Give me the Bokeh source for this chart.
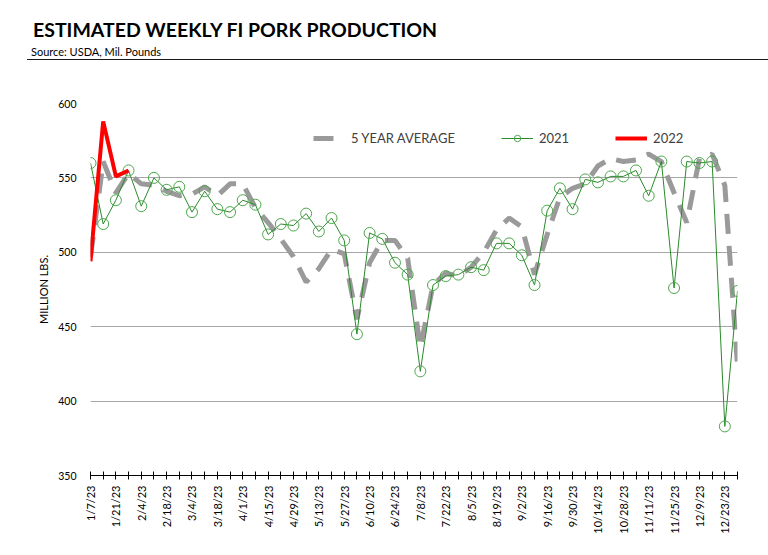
from bokeh.plotting import figure
from bokeh.models import (Range1d, FixedTicker, Legend, LegendItem, Div,
                          ColumnDataSource)
from bokeh.layouts import column
from bokeh.embed import file_html
from bokeh.resources import INLINE
import math

weeks = ["1/7/23", "1/14/23", "1/21/23", "1/28/23", "2/4/23", "2/11/23", "2/18/23",
         "2/25/23", "3/4/23", "3/11/23", "3/18/23", "3/25/23", "4/1/23", "4/8/23",
         "4/15/23", "4/22/23", "4/29/23", "5/6/23", "5/13/23", "5/20/23", "5/27/23",
         "6/3/23", "6/10/23", "6/17/23", "6/24/23", "7/1/23", "7/8/23", "7/15/23",
         "7/22/23", "7/29/23", "8/5/23", "8/12/23", "8/19/23", "8/26/23", "9/2/23",
         "9/9/23", "9/16/23", "9/23/23", "9/30/23", "10/7/23", "10/14/23", "10/21/23",
         "10/28/23", "11/4/23", "11/11/23", "11/18/23", "11/25/23", "12/2/23",
         "12/9/23", "12/16/23", "12/23/23", "12/30/23"]

avg5 = [497, 561, 540, 553, 546, 545, 541, 538, 539, 544, 538, 546, 546, 530,
        520, 509, 497, 480, 489, 502, 499, 455, 493, 508, 508, 496, 436, 478,
        486, 484, 490, 500, 515, 523, 517, 485, 512, 537, 543, 546, 558, 563,
        561, 562, 566, 561, 540, 520, 563, 566, 545, 424]

y2021 = [560, 519, 535, 555, 531, 550, 542, 544, 527, 541, 529, 527, 535, 532,
         512, 519, 518, 526, 514, 523, 508, 445, 513, 509, 493, 485, 420, 478,
         484, 485, 490, 488, 506, 506, 498, 478, 528, 543, 529, 549, 547, 551,
         551, 555, 538, 561, 476, 561, 560, 561, 383, 474]

y2022 = [494, 588, 551, 555]

y_ticks = [350, 400, 450, 500, 550, 600]

TITLE = "ESTIMATED WEEKLY FI PORK PRODUCTION"
SUBTITLE = "Source: USDA, Mil. Pounds"

FONT = "Lato"
W = 768
HEAD_H = 62

# ---------------- header (title, subtitle, rule) ----------------
header_html = (
    '<div style="position:relative;width:768px;height:62px;'
    'font-family:Lato,sans-serif;color:#000;">'
    '<div style="position:absolute;left:33px;top:18px;font-size:19.5px;'
    'font-weight:bold;line-height:24px;white-space:nowrap;">' + TITLE + '</div>'
    '<div style="position:absolute;left:31px;top:45px;font-size:11px;'
    'line-height:14px;white-space:nowrap;">' + SUBTITLE + '</div>'
    '<div style="position:absolute;left:27px;top:59px;width:741px;height:0;'
    'border-top:1.5px solid #1a1a1a;"></div>'
    '</div>'
)
head = Div(text=header_html, width=W, height=HEAD_H, margin=0)

# ---------------- main chart ----------------
idx = list(range(len(weeks)))

p = figure(width=W, height=555 - HEAD_H, output_backend="svg",
           toolbar_location=None,
           x_range=Range1d(0, len(weeks) - 1), y_range=Range1d(350, 600),
           min_border_left=90, min_border_right=31, min_border_top=103 - HEAD_H,
           min_border_bottom=80, margin=0)
p.outline_line_color = None

p.xgrid.grid_line_color = None
p.ygrid.grid_line_color = "#a6a6a6"
p.ygrid.grid_line_width = 1
p.ygrid.ticker = FixedTicker(ticks=y_ticks)

xa = p.xaxis[0]
xa.ticker = FixedTicker(ticks=idx)
xa.major_label_overrides = {i: (weeks[i] if i % 2 == 0 else "") for i in idx}
xa.major_label_orientation = math.pi / 2
xa.axis_line_color = "#000000"
xa.major_tick_line_color = "#000000"
xa.major_tick_in = 4
xa.major_tick_out = 4
xa.minor_tick_line_color = None
xa.major_label_text_font = FONT
xa.major_label_text_font_size = "11px"
xa.major_label_text_color = "#000000"
xa.major_label_standoff = 6

ya = p.yaxis[0]
ya.ticker = FixedTicker(ticks=y_ticks)
ya.axis_line_color = None
ya.major_tick_line_color = None
ya.minor_tick_line_color = None
ya.major_label_text_font = FONT
ya.major_label_text_font_size = "10.5px"
ya.major_label_text_color = "#000000"
ya.major_label_standoff = 8
ya.axis_label = "MILLION LBS."
ya.axis_label_text_font = FONT
ya.axis_label_text_font_size = "11px"
ya.axis_label_text_font_style = "normal"
ya.axis_label_text_color = "#000000"
ya.axis_label_standoff = 5

src = ColumnDataSource(dict(x=idx, avg=avg5, y21=y2021))
src22 = ColumnDataSource(dict(x=idx[:len(y2022)], y=y2022))

r_avg = p.line("x", "avg", source=src, line_color="#9a9a9a", line_width=5,
               line_dash="20 12")
r21l = p.line("x", "y21", source=src, line_color="#2a8a2a", line_width=1)
r21m = p.scatter("x", "y21", source=src, marker="circle", size=11,
                 fill_color=None, line_color="#4da64d", line_width=1)
r22 = p.line("x", "y", source=src22, line_color="#ff0000", line_width=4)

legend = Legend(items=[
    LegendItem(label="5 YEAR AVERAGE", renderers=[r_avg]),
    LegendItem(label="2021", renderers=[r21l, r21m]),
    LegendItem(label="2022", renderers=[r22]),
], orientation="horizontal", location=(223, 329), padding=0, margin=0,
    spacing=46, glyph_width=32, glyph_height=16, label_standoff=6,
    label_text_font=FONT, label_text_font_size="13px",
    label_text_color="#404040", background_fill_alpha=0,
    border_line_color=None)
p.add_layout(legend, "center")

layout = column(head, p, spacing=0)
open("out.html", "w").write(file_html(layout, INLINE))
